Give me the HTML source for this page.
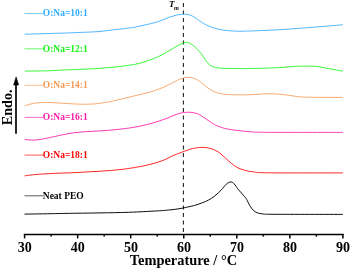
<!DOCTYPE html>
<html><head><meta charset="utf-8"><style>
html,body{margin:0;padding:0;background:#fff;overflow:hidden;width:350px;height:269px;}
svg{display:block;}
text{font-family:"Liberation Serif","Times New Roman",serif;font-weight:bold;}
.lg{font-size:9.5px;}
.tk{font-size:14px;}
.xl{font-size:14.4px;}
.tm{font-size:9px;font-style:italic;}
.endo{font-size:14.2px;}
</style></head><body>
<svg width="350" height="269" viewBox="0 0 350 269">
<rect width="350" height="269" fill="#fff"/>
<line x1="183.4" y1="3.1" x2="183.4" y2="232.2" stroke="#1a1a1a" stroke-width="1.05" stroke-dasharray="4,3.5"/>
<path d="M24.60,34.20 C28.67,34.08 42.10,33.70 49.00,33.50 C55.90,33.30 60.83,33.18 66.00,33.00 C71.17,32.82 74.83,32.62 80.00,32.40 C85.17,32.18 91.33,32.13 97.00,31.70 C102.67,31.27 108.25,30.47 114.00,29.80 C119.75,29.13 127.50,28.25 131.50,27.70 C135.50,27.15 135.58,27.00 138.00,26.50 C140.42,26.00 143.13,25.37 146.00,24.70 C148.87,24.03 152.53,23.25 155.20,22.50 C157.87,21.75 159.72,21.05 162.00,20.20 C164.28,19.35 166.32,18.28 168.90,17.40 C171.48,16.52 174.93,15.43 177.50,14.90 C180.07,14.37 182.30,14.20 184.30,14.20 C186.30,14.20 187.72,14.35 189.50,14.90 C191.28,15.45 193.58,16.70 195.00,17.50 C196.42,18.30 197.17,19.10 198.00,19.70 C198.83,20.30 198.72,20.28 200.00,21.10 C201.28,21.92 203.80,23.60 205.70,24.60 C207.60,25.60 209.50,26.38 211.40,27.10 C213.30,27.82 215.18,28.40 217.10,28.90 C219.02,29.40 220.98,29.80 222.90,30.10 C224.82,30.40 226.70,30.53 228.60,30.70 C230.50,30.87 232.40,31.02 234.30,31.10 C236.20,31.18 237.97,31.20 240.00,31.20 C242.03,31.20 244.00,31.17 246.50,31.10 C249.00,31.03 249.85,31.02 255.00,30.80 C260.15,30.58 269.10,30.28 277.40,29.80 C285.70,29.32 295.67,28.58 304.80,27.90 C313.93,27.22 325.87,26.23 332.20,25.70 C338.53,25.17 341.03,24.87 342.80,24.70" fill="none" stroke="#30abff" stroke-width="0.85" stroke-linejoin="round"/>
<path d="M24.80,71.10 C28.57,71.05 40.48,71.00 47.40,70.80 C54.32,70.60 60.87,70.13 66.30,69.90 C71.73,69.67 74.88,69.63 80.00,69.40 C85.12,69.17 91.33,68.88 97.00,68.50 C102.67,68.12 108.83,67.62 114.00,67.10 C119.17,66.58 124.00,65.97 128.00,65.40 C132.00,64.83 135.00,64.38 138.00,63.70 C141.00,63.02 143.13,62.25 146.00,61.30 C148.87,60.35 152.53,59.08 155.20,58.00 C157.87,56.92 159.87,55.90 162.00,54.80 C164.13,53.70 166.28,52.38 168.00,51.40 C169.72,50.42 170.87,49.75 172.30,48.90 C173.73,48.05 175.17,47.10 176.60,46.30 C178.03,45.50 179.77,44.65 180.90,44.10 C182.03,43.55 182.48,43.28 183.40,43.00 C184.32,42.72 185.40,42.40 186.40,42.40 C187.40,42.40 188.18,42.42 189.40,43.00 C190.62,43.58 192.42,44.92 193.70,45.90 C194.98,46.88 195.82,47.57 197.10,48.90 C198.38,50.23 200.13,52.22 201.40,53.90 C202.67,55.58 203.60,57.42 204.70,59.00 C205.80,60.58 206.88,62.20 208.00,63.40 C209.12,64.60 210.27,65.55 211.40,66.20 C212.53,66.85 213.70,67.02 214.80,67.30 C215.90,67.58 216.30,67.72 218.00,67.90 C219.70,68.08 222.17,68.30 225.00,68.40 C227.83,68.50 230.83,68.48 235.00,68.50 C239.17,68.52 242.93,68.63 250.00,68.50 C257.07,68.37 269.63,68.07 277.40,67.70 C285.17,67.33 291.83,66.57 296.60,66.30 C301.37,66.03 302.80,66.10 306.00,66.10 C309.20,66.10 312.80,66.03 315.80,66.30 C318.80,66.57 320.97,67.15 324.00,67.70 C327.03,68.25 330.83,69.02 334.00,69.60 C337.17,70.18 341.50,70.93 343.00,71.20" fill="none" stroke="#18f518" stroke-width="0.85" stroke-linejoin="round"/>
<path d="M24.60,105.80 C25.50,105.53 28.20,104.65 30.00,104.20 C31.80,103.75 33.40,103.38 35.40,103.10 C37.40,102.82 39.57,102.60 42.00,102.50 C44.43,102.40 45.82,102.33 50.00,102.50 C54.18,102.67 61.95,103.22 67.10,103.50 C72.25,103.78 76.32,104.13 80.90,104.20 C85.48,104.27 90.60,104.18 94.60,103.90 C98.60,103.62 102.33,102.88 104.90,102.50 C107.47,102.12 107.98,102.00 110.00,101.60 C112.02,101.20 112.95,101.05 117.00,100.10 C121.05,99.15 128.57,97.30 134.30,95.90 C140.03,94.50 147.12,92.92 151.40,91.70 C155.68,90.48 157.73,89.45 160.00,88.60 C162.27,87.75 163.33,87.37 165.00,86.60 C166.67,85.83 168.45,84.78 170.00,84.00 C171.55,83.22 172.87,82.62 174.30,81.90 C175.73,81.18 177.17,80.32 178.60,79.70 C180.03,79.08 181.48,78.58 182.90,78.20 C184.32,77.82 185.68,77.50 187.10,77.40 C188.52,77.30 190.02,77.35 191.40,77.60 C192.78,77.85 194.08,78.32 195.40,78.90 C196.72,79.48 197.93,80.15 199.30,81.10 C200.67,82.05 202.17,83.45 203.60,84.60 C205.03,85.75 206.48,87.00 207.90,88.00 C209.32,89.00 210.68,89.85 212.10,90.60 C213.52,91.35 214.97,92.00 216.40,92.50 C217.83,93.00 219.27,93.32 220.70,93.60 C222.13,93.88 222.83,94.00 225.00,94.20 C227.17,94.40 229.97,94.70 233.70,94.80 C237.43,94.90 243.35,94.88 247.40,94.80 C251.45,94.72 254.35,94.48 258.00,94.30 C261.65,94.12 265.13,93.67 269.30,93.70 C273.47,93.73 278.88,94.10 283.00,94.50 C287.12,94.90 290.80,95.68 294.00,96.10 C297.20,96.52 298.55,96.80 302.20,97.00 C305.85,97.20 309.13,97.23 315.90,97.30 C322.67,97.37 338.32,97.38 342.80,97.40" fill="none" stroke="#f79a55" stroke-width="0.85" stroke-linejoin="round"/>
<path d="M24.80,139.40 C26.00,139.52 29.37,140.10 32.00,140.10 C34.63,140.10 36.88,139.98 40.60,139.40 C44.32,138.82 49.73,137.55 54.30,136.60 C58.87,135.65 63.72,134.45 68.00,133.70 C72.28,132.95 76.17,132.48 80.00,132.10 C83.83,131.72 87.18,131.63 91.00,131.40 C94.82,131.17 99.07,130.97 102.90,130.70 C106.73,130.43 110.20,130.17 114.00,129.80 C117.80,129.43 122.20,128.95 125.70,128.50 C129.20,128.05 131.95,127.63 135.00,127.10 C138.05,126.57 141.17,125.95 144.00,125.30 C146.83,124.65 149.33,123.97 152.00,123.20 C154.67,122.43 157.50,121.52 160.00,120.70 C162.50,119.88 165.00,119.05 167.00,118.30 C169.00,117.55 170.17,116.95 172.00,116.20 C173.83,115.45 176.15,114.38 178.00,113.80 C179.85,113.22 181.38,112.97 183.10,112.70 C184.82,112.43 186.58,112.20 188.30,112.20 C190.02,112.20 191.68,112.37 193.40,112.70 C195.12,113.03 196.88,113.43 198.60,114.20 C200.32,114.97 201.97,116.17 203.70,117.30 C205.43,118.43 207.28,119.83 209.00,121.00 C210.72,122.17 212.65,123.50 214.00,124.30 C215.35,125.10 215.38,125.13 217.10,125.80 C218.82,126.47 221.92,127.65 224.30,128.30 C226.68,128.95 229.02,129.32 231.40,129.70 C233.78,130.08 236.22,130.32 238.60,130.60 C240.98,130.88 243.32,131.17 245.70,131.40 C248.08,131.63 250.52,131.87 252.90,132.00 C255.28,132.13 255.48,132.13 260.00,132.20 C264.52,132.27 266.20,132.37 280.00,132.40 C293.80,132.43 332.33,132.40 342.80,132.40" fill="none" stroke="#ff1aa5" stroke-width="0.85" stroke-linejoin="round"/>
<path d="M24.60,175.90 C25.67,175.75 28.72,175.27 31.00,175.00 C33.28,174.73 34.42,174.57 38.30,174.30 C42.18,174.03 47.83,173.70 54.30,173.40 C60.77,173.10 69.48,172.87 77.10,172.50 C84.72,172.13 92.37,171.73 100.00,171.20 C107.63,170.67 115.28,170.27 122.90,169.30 C130.52,168.33 139.23,166.80 145.70,165.40 C152.17,164.00 157.13,162.53 161.70,160.90 C166.27,159.27 170.05,156.93 173.10,155.60 C176.15,154.27 178.18,153.60 180.00,152.90 C181.82,152.20 182.38,151.98 184.00,151.40 C185.62,150.82 187.80,149.97 189.70,149.40 C191.60,148.83 193.50,148.33 195.40,148.00 C197.30,147.67 199.18,147.45 201.10,147.40 C203.02,147.35 204.98,147.42 206.90,147.70 C208.82,147.98 210.70,148.38 212.60,149.10 C214.50,149.82 216.90,151.17 218.30,152.00 C219.70,152.83 219.77,153.05 221.00,154.10 C222.23,155.15 223.97,156.75 225.70,158.30 C227.43,159.85 229.50,161.88 231.40,163.40 C233.30,164.92 235.18,166.35 237.10,167.40 C239.02,168.45 240.98,169.07 242.90,169.70 C244.82,170.33 246.70,170.82 248.60,171.20 C250.50,171.58 252.40,171.77 254.30,172.00 C256.20,172.23 255.72,172.45 260.00,172.60 C264.28,172.75 266.20,172.85 280.00,172.90 C293.80,172.95 332.33,172.90 342.80,172.90" fill="none" stroke="#ff0000" stroke-width="0.85" stroke-linejoin="round"/>
<path d="M24.50,214.10 C27.92,214.05 38.08,213.92 45.00,213.80 C51.92,213.68 56.83,213.55 66.00,213.40 C75.17,213.25 89.57,213.08 100.00,212.90 C110.43,212.72 119.08,212.63 128.60,212.30 C138.12,211.97 150.20,211.30 157.10,210.90 C164.00,210.50 166.18,210.28 170.00,209.90 C173.82,209.52 176.67,209.17 180.00,208.60 C183.33,208.03 187.33,207.10 190.00,206.50 C192.67,205.90 193.95,205.62 196.00,205.00 C198.05,204.38 200.20,203.63 202.30,202.80 C204.40,201.97 206.50,201.15 208.60,200.00 C210.70,198.85 212.80,197.57 214.90,195.90 C217.00,194.23 219.32,191.93 221.20,190.00 C223.08,188.07 224.73,185.63 226.20,184.30 C227.67,182.97 228.95,182.32 230.00,182.00 C231.05,181.68 231.85,182.13 232.50,182.40 C233.15,182.67 233.27,182.90 233.90,183.60 C234.53,184.30 235.57,185.62 236.30,186.60 C237.03,187.58 236.92,187.83 238.30,189.50 C239.68,191.17 243.12,194.78 244.60,196.60 C246.08,198.42 246.35,198.92 247.20,200.40 C248.05,201.88 248.65,203.82 249.70,205.50 C250.75,207.18 252.23,209.28 253.50,210.50 C254.77,211.72 255.62,212.22 257.30,212.80 C258.98,213.38 260.65,213.75 263.60,214.00 C266.55,214.25 261.80,214.23 275.00,214.30 C288.20,214.37 331.50,214.38 342.80,214.40" fill="none" stroke="#000000" stroke-width="0.95" stroke-linejoin="round"/>
<line x1="24.5" y1="13.6" x2="43" y2="13.6" stroke="#30abff" stroke-width="0.65"/>
<text x="42.8" y="15.9" fill="#30abff" class="lg">O:Na=10:1</text>
<line x1="24.5" y1="48.8" x2="43" y2="48.8" stroke="#18f518" stroke-width="0.65"/>
<text x="42.8" y="51.8" fill="#18f518" class="lg">O:Na=12:1</text>
<line x1="24.5" y1="85.3" x2="43" y2="85.3" stroke="#f79a55" stroke-width="0.65"/>
<text x="42.8" y="88.4" fill="#f79a55" class="lg">O:Na=14:1</text>
<line x1="24.5" y1="117.4" x2="43" y2="117.4" stroke="#ff1aa5" stroke-width="0.65"/>
<text x="42.8" y="119.8" fill="#ff1aa5" class="lg">O:Na=16:1</text>
<line x1="24.5" y1="155.1" x2="43" y2="155.1" stroke="#ff0000" stroke-width="0.65"/>
<text x="42.8" y="157.8" fill="#ff0000" class="lg">O:Na=18:1</text>
<line x1="24.5" y1="195.8" x2="43" y2="195.8" stroke="#000000" stroke-width="0.65"/>
<text x="42.8" y="198.6" fill="#000000" class="lg">Neat PEO</text>
<line x1="23.85" y1="234.5" x2="343.65" y2="234.5" stroke="#000" stroke-width="1.5"/>
<line x1="24.60" y1="234" x2="24.60" y2="238.4" stroke="#000" stroke-width="1.5"/>
<text x="24.80" y="252.2" class="tk" text-anchor="middle">30</text>
<line x1="51.12" y1="234" x2="51.12" y2="236.6" stroke="#000" stroke-width="1.5"/>
<line x1="77.65" y1="234" x2="77.65" y2="238.4" stroke="#000" stroke-width="1.5"/>
<text x="77.85" y="252.2" class="tk" text-anchor="middle">40</text>
<line x1="104.17" y1="234" x2="104.17" y2="236.6" stroke="#000" stroke-width="1.5"/>
<line x1="130.70" y1="234" x2="130.70" y2="238.4" stroke="#000" stroke-width="1.5"/>
<text x="130.90" y="252.2" class="tk" text-anchor="middle">50</text>
<line x1="157.22" y1="234" x2="157.22" y2="236.6" stroke="#000" stroke-width="1.5"/>
<line x1="183.75" y1="234" x2="183.75" y2="238.4" stroke="#000" stroke-width="1.5"/>
<text x="183.95" y="252.2" class="tk" text-anchor="middle">60</text>
<line x1="210.27" y1="234" x2="210.27" y2="236.6" stroke="#000" stroke-width="1.5"/>
<line x1="236.80" y1="234" x2="236.80" y2="238.4" stroke="#000" stroke-width="1.5"/>
<text x="237.00" y="252.2" class="tk" text-anchor="middle">70</text>
<line x1="263.32" y1="234" x2="263.32" y2="236.6" stroke="#000" stroke-width="1.5"/>
<line x1="289.85" y1="234" x2="289.85" y2="238.4" stroke="#000" stroke-width="1.5"/>
<text x="290.05" y="252.2" class="tk" text-anchor="middle">80</text>
<line x1="316.38" y1="234" x2="316.38" y2="236.6" stroke="#000" stroke-width="1.5"/>
<line x1="342.90" y1="234" x2="342.90" y2="238.4" stroke="#000" stroke-width="1.5"/>
<text x="343.10" y="252.2" class="tk" text-anchor="middle">90</text>
<text x="129.8" y="265.4" class="xl">Temperature / °C</text>
<text x="169.0" y="7.1" class="tm">T<tspan font-size="6.3" dx="-0.4" dy="3.0">m</tspan></text>
<line x1="16.0" y1="84" x2="16.0" y2="133.7" stroke="#000" stroke-width="1.7"/>
<path d="M16.1,76.9 L18.6,85.0 L13.6,85.0 Z" fill="#000" stroke="#000" stroke-width="0.6" stroke-linejoin="round"/>
<text transform="translate(12.1,125.3) rotate(-90)" class="endo">Endo.</text>
</svg>
</body></html>
